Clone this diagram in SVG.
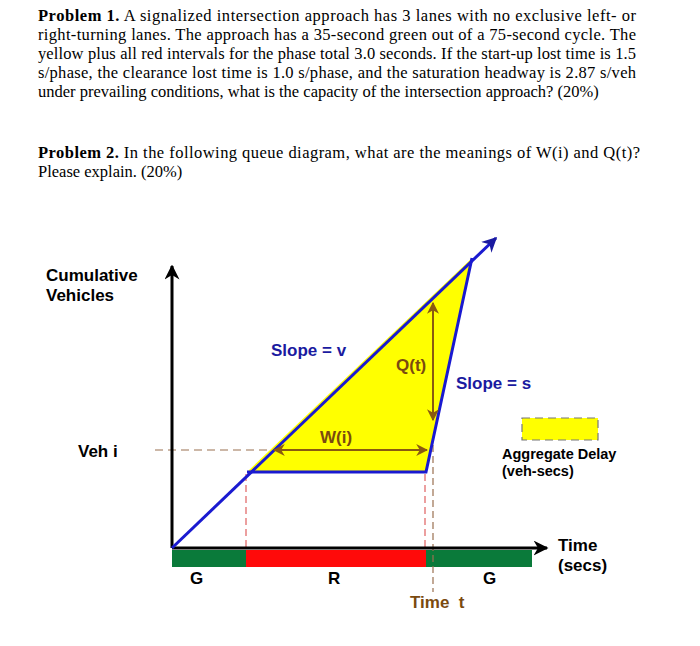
<svg xmlns="http://www.w3.org/2000/svg" width="700" height="646" viewBox="0 0 700 646">
<style>
.p{font-family:"Liberation Serif",serif;font-size:16.5px;fill:#000}
.s{font-family:"Liberation Sans",Arial,sans-serif;font-weight:bold;font-size:17px}
.lg{font-size:14.5px}
.blue{fill:#1a1aa0}.brown{fill:#7a4a10}
</style>
<defs>
<marker id="ak" viewBox="0 0 10 10" refX="9" refY="5" markerWidth="5" markerHeight="5" orient="auto"><path d="M0,0L10,5L0,10L3,5z" fill="#000"/></marker>
<marker id="ab" viewBox="0 0 10 10" refX="9" refY="5" markerWidth="5" markerHeight="5" orient="auto"><path d="M0,0L10,5L0,10L3,5z" fill="#1a1aa0"/></marker>
<marker id="ar" viewBox="0 0 10 10" refX="9" refY="5" markerWidth="6" markerHeight="6" orient="auto-start-reverse"><path d="M0,0L10,5L0,10L3,5z" fill="#8a5a10"/></marker>
</defs>
<rect width="700" height="646" fill="#fff"/>
<g id="text">
<text class="p" x="38" y="21" textLength="598" lengthAdjust="spacing"><tspan font-weight="bold">Problem 1.</tspan> A signalized intersection approach has 3 lanes with no exclusive left- or</text>
<text class="p" x="38" y="40" textLength="598" lengthAdjust="spacing">right-turning lanes.  The approach has a 35-second green out of a 75-second cycle.  The</text>
<text class="p" x="38" y="59" textLength="598" lengthAdjust="spacing">yellow plus all red intervals for the phase total 3.0 seconds.  If the start-up lost time is 1.5</text>
<text class="p" x="38" y="78" textLength="598" lengthAdjust="spacing">s/phase, the clearance lost time is 1.0 s/phase, and the saturation headway is 2.87 s/veh</text>
<text class="p" x="38" y="97">under prevailing conditions, what is the capacity of the intersection approach? (20%)</text>
<text class="p" x="38" y="158" textLength="602" lengthAdjust="spacing"><tspan font-weight="bold">Problem 2.</tspan> In the following queue diagram, what are the meanings of W(i) and Q(t)?</text>
<text class="p" x="38" y="177">Please explain. (20%)</text>
</g>
<g id="bars">
<rect x="172" y="550" width="74" height="17" fill="#0a7a3a"/>
<rect x="246" y="550" width="180" height="17" fill="#ff0a0a"/>
<rect x="426" y="550" width="106" height="17" fill="#0a7a3a"/>
</g>
<g id="delay"><polygon points="247,472 426,472 472,258" fill="#ffff00"/></g>
<g id="connectors" fill="none">
<line x1="155" y1="450" x2="272" y2="450" stroke="#9a7050" stroke-width="1.2" stroke-dasharray="8,5"/>
<line x1="246" y1="474" x2="246" y2="548" stroke="#e06060" stroke-width="1.2" stroke-dasharray="7,4"/>
<line x1="425" y1="474" x2="425" y2="548" stroke="#e06060" stroke-width="1.2" stroke-dasharray="7,4"/>
<line x1="433" y1="445" x2="433" y2="592" stroke="#9a7050" stroke-width="1.2" stroke-dasharray="7,4"/>
<line x1="172" y1="548" x2="172" y2="266" stroke="#000" stroke-width="3" marker-end="url(#ak)"/>
<line x1="172" y1="548" x2="547" y2="548" stroke="#000" stroke-width="3" marker-end="url(#ak)"/>
<line x1="172" y1="548" x2="496" y2="238" stroke="#1a1ad0" stroke-width="3" marker-end="url(#ab)"/>
<polyline points="247,472 426,472 472,258" stroke="#1a1ad0" stroke-width="3"/>
<line x1="274" y1="450" x2="427" y2="450" stroke="#8a5a10" stroke-width="2" marker-start="url(#ar)" marker-end="url(#ar)"/>
<line x1="433" y1="303" x2="433" y2="420" stroke="#8a5a10" stroke-width="2" marker-start="url(#ar)" marker-end="url(#ar)"/>
</g>
<g id="legend">
<rect x="522" y="418" width="76" height="22" fill="#ffff00" stroke="#777" stroke-width="1.2" stroke-dasharray="8,5"/>
<text class="s lg" x="502" y="459">Aggregate Delay</text>
<text class="s lg" x="502" y="476">(veh-secs)</text>
</g>
<g id="labels">
<text class="s" x="46" y="281">Cumulative</text>
<text class="s" x="46" y="301">Vehicles</text>
<text class="s" x="78" y="457">Veh i</text>
<text class="s blue" x="271" y="356">Slope = v</text>
<text class="s blue" x="456" y="389">Slope = s</text>
<text class="s brown" x="396" y="371">Q(t)</text>
<text class="s brown" x="320" y="443">W(i)</text>
<text class="s" x="190" y="584">G</text>
<text class="s" x="328" y="584">R</text>
<text class="s" x="483" y="584">G</text>
<text class="s brown" x="410" y="608" xml:space="preserve">Time  t</text>
<text class="s" x="558" y="551">Time</text>
<text class="s" x="558" y="571">(secs)</text>
</g>
</svg>
